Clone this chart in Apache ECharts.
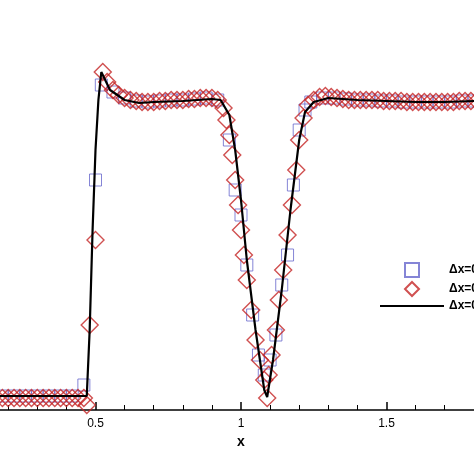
<!DOCTYPE html>
<html>
<head>
<meta charset="utf-8">
<script src="https://cdn.jsdelivr.net/npm/echarts@6/dist/echarts.min.js"></script>
<style>html,body{margin:0;padding:0;background:#fff}#c{width:474px;height:474px}</style>
</head>
<body>
<div id="c"></div>
<script>
// reference line
const lineData = [
  [0.1, 0.14], [0.47, 0.14], [0.48, 0.8], [0.49, 1.8], [0.50, 2.6], [0.51, 3.1], [0.52, 3.38],
  [0.55, 3.2], [0.6, 3.1], [0.65, 3.07], [0.7, 3.08], [0.8, 3.09], [0.9, 3.11], [0.93, 3.1],
  [0.96, 2.95], [0.98, 2.6], [1.0, 2.1], [1.02, 1.5], [1.05, 0.8], [1.08, 0.2], [1.09, 0.13],
  [1.11, 0.5], [1.14, 1.2], [1.17, 2.0], [1.2, 2.7], [1.22, 2.98], [1.25, 3.08], [1.3, 3.12],
  [1.4, 3.1], [1.5, 3.09], [1.6, 3.08], [1.7, 3.08], [1.8, 3.09], [1.9, 3.09]
];
// diamonds
const diamondData = [
  [0.16, 0.12], [0.18, 0.12], [0.20, 0.12], [0.22, 0.12], [0.24, 0.12], [0.26, 0.12], [0.28, 0.12],
  [0.30, 0.12], [0.32, 0.12], [0.34, 0.12], [0.36, 0.12], [0.38, 0.12], [0.40, 0.12], [0.42, 0.12],
  [0.44, 0.12], [0.46, 0.12], [0.47, 0.05], [0.48, 0.85], [0.50, 1.7], [0.525, 3.38],
  [0.54, 3.28], [0.56, 3.2], [0.58, 3.15], [0.60, 3.12], [0.62, 3.1], [0.64, 3.09], [0.66, 3.08],
  [0.68, 3.08], [0.70, 3.08], [0.72, 3.09], [0.74, 3.09], [0.76, 3.1], [0.78, 3.1], [0.80, 3.1],
  [0.82, 3.11], [0.84, 3.11], [0.86, 3.12], [0.88, 3.12], [0.90, 3.12], [0.92, 3.1],
  [0.94, 3.02], [0.95, 2.9], [0.96, 2.75], [0.97, 2.55], [0.98, 2.3], [0.99, 2.05], [1.0, 1.8],
  [1.01, 1.55], [1.02, 1.3], [1.035, 1.0], [1.05, 0.7], [1.065, 0.5], [1.08, 0.3], [1.09, 0.12],
  [1.095, 0.35], [1.105, 0.55], [1.12, 0.8], [1.13, 1.1], [1.145, 1.4], [1.16, 1.75],
  [1.175, 2.05], [1.19, 2.4], [1.2, 2.7], [1.215, 2.92], [1.23, 3.05], [1.25, 3.1], [1.27, 3.13],
  [1.29, 3.14], [1.31, 3.13], [1.33, 3.12], [1.35, 3.11], [1.37, 3.1], [1.39, 3.1], [1.41, 3.1],
  [1.43, 3.1], [1.45, 3.1], [1.47, 3.1], [1.49, 3.09], [1.51, 3.09], [1.53, 3.09], [1.55, 3.09],
  [1.57, 3.08], [1.59, 3.08], [1.61, 3.08], [1.63, 3.08], [1.65, 3.08], [1.67, 3.08], [1.69, 3.08],
  [1.71, 3.08], [1.73, 3.08], [1.75, 3.09], [1.77, 3.09], [1.79, 3.09], [1.81, 3.09]
];
// squares
const squareData = [
  [0.18, 0.14], [0.22, 0.14], [0.26, 0.14], [0.30, 0.14], [0.34, 0.14], [0.38, 0.14], [0.42, 0.14],
  [0.46, 0.25], [0.50, 2.3], [0.52, 3.25], [0.56, 3.18], [0.60, 3.12], [0.64, 3.09], [0.68, 3.08],
  [0.72, 3.09], [0.76, 3.1], [0.80, 3.1], [0.84, 3.11], [0.88, 3.12], [0.92, 3.1], [0.96, 2.7],
  [0.98, 2.2], [1.0, 1.95], [1.02, 1.45], [1.04, 0.95], [1.06, 0.55], [1.08, 0.35], [1.1, 0.5],
  [1.12, 0.75], [1.14, 1.25], [1.16, 1.55], [1.18, 2.25], [1.2, 2.8], [1.22, 3.0], [1.24, 3.08],
  [1.28, 3.12], [1.32, 3.12], [1.36, 3.11], [1.40, 3.1], [1.44, 3.1], [1.48, 3.09], [1.52, 3.09],
  [1.56, 3.08], [1.60, 3.08], [1.64, 3.08], [1.68, 3.08], [1.72, 3.08], [1.76, 3.09], [1.80, 3.09]
];
const seriesNames = ['Δx=0.01', 'Δx=0.005', 'Δx=0.001'];

let chart = echarts.init(document.getElementById('c'));
let option = {
  animation: false,
  grid: { left: -50, right: -58, top: 0, bottom: 64, outerBoundsMode: 'none', containLabel: false },
  legend: {
    orient: 'vertical',
    left: 375,
    top: 257,
    itemWidth: 64,
    itemHeight: 14,
    itemGap: 3,
    textStyle: { fontSize: 12, fontWeight: 'bold', color: '#000', fontFamily: 'Liberation Sans' },
    data: [
      { name: seriesNames[0], icon: 'path://M0,0H10V10H0Z' },
      { name: seriesNames[1], icon: 'path://M5,0L10,5L5,10L0,5Z' },
      { name: seriesNames[2], icon: 'path://M0,0H64V2H0Z' }
    ]
  },
  xAxis: {
    type: 'value',
    min: 0, max: 2, interval: 0.5,
    name: 'x', nameLocation: 'middle', nameGap: 20,
    nameTextStyle: { fontSize: 14, fontWeight: 'bold', color: '#000', fontFamily: 'Liberation Sans' },
    axisLine: { onZero: false, lineStyle: { color: '#000', width: 1.5 } },
    axisTick: { inside: true, length: 8, lineStyle: { color: '#000', width: 1.5 } },
    minorTick: { show: true, splitNumber: 5, length: 5, lineStyle: { color: '#000' } },
    axisLabel: { fontSize: 12, color: '#000', fontFamily: 'Liberation Sans', margin: 8 },
    splitLine: { show: false }
  },
  yAxis: {
    type: 'value', min: 0, max: 4.1,
    show: false
  },
  series: [
    {
      name: seriesNames[0], type: 'scatter', data: squareData,
      symbol: 'rect', symbolSize: 12,
      itemStyle: { color: 'transparent', borderColor: '#6666cc', borderWidth: 1 },
      z: 3
    },
    {
      name: seriesNames[1], type: 'scatter', data: diamondData,
      symbol: 'diamond', symbolSize: 17,
      itemStyle: { color: 'transparent', borderColor: '#c42424', borderWidth: 1.4 },
      z: 4
    },
    {
      name: seriesNames[2], type: 'line', data: lineData,
      symbol: 'none', lineStyle: { color: '#000', width: 2.2 },
      itemStyle: { color: '#000' },
      z: 5
    }
  ]
};
chart.setOption(option);
</script>
</body>
</html>
